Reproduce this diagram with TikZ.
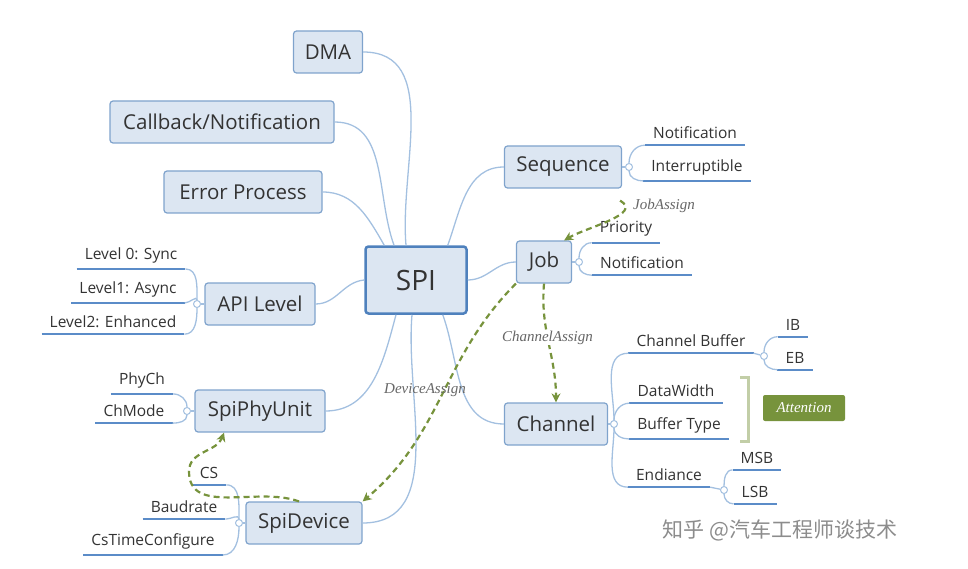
\documentclass[tikz,border=0pt]{standalone}
\usepackage{fontspec}
\setmainfont{Open Sans}
\newfontfamily\cjk{Noto Sans CJK SC}
\newfontfamily\lblfont{Liberation Serif}
\usetikzlibrary{arrows.meta}
\definecolor{boxfill}{HTML}{DCE6F2}
\definecolor{boxdraw}{HTML}{7FA3CC}
\definecolor{spidraw}{HTML}{4F81BD}
\definecolor{branch}{HTML}{A3C0E0}
\definecolor{leafline}{HTML}{5B8CC8}
\definecolor{assign}{HTML}{77933C}
\begin{document}
\begin{tikzpicture}[x=1pt,y=-1pt,
  box/.style={draw=boxdraw, fill=boxfill, line width=1.2pt, rounded corners=3pt,
    font=\fontsize{20.5}{22}\selectfont, text=black!80, minimum height=42pt, inner xsep=8pt},
  leaf/.style={font=\fontsize{15.5}{17}\selectfont, text=black!80, inner xsep=8pt, inner ysep=6pt},
  uline/.style={draw=leafline, line width=2pt},
  br/.style={draw=branch, line width=1.3pt},
  knob/.style={circle, draw=branch, fill=white, line width=1pt, inner sep=0pt, minimum size=7pt},
  jump/.style={draw=assign, line width=2.2pt, dash pattern=on 6pt off 4pt, -{Stealth[length=9pt,width=9pt]}},
  lbl/.style={font=\lblfont\itshape\fontsize{15}{17}\selectfont, text=black!60},
]
\useasboundingbox (0,0) rectangle (968,569);

% central node and main boxes
\node[box, draw=spidraw, line width=2.5pt, minimum width=101pt, minimum height=67pt,
  font=\fontsize{28}{30}\selectfont] (spi) at (416,280) {SPI};
\node[box, minimum width=69pt] (dma) at (328,52) {DMA};
\node[box, minimum width=224pt] (cb) at (222,122) {Callback/Notification};
\node[box, minimum width=158pt] (err) at (243,192) {Error Process};
\node[box, minimum width=110pt] (api) at (260,304) {API Level};
\node[box, minimum width=130pt] (phy) at (260,411) {SpiPhyUnit};
\node[box, minimum width=116pt] (dev) at (304,523) {SpiDevice};
\node[box, minimum width=117pt] (seq) at (563,167) {Sequence};
\node[box, minimum width=55pt] (job) at (544,262) {Job};
\node[box, minimum width=103pt] (ch) at (556,424) {Channel};

% branches from SPI
\draw[br] (spi.north) ++(-10,0) to[out=95,in=0] (dma.east);
\draw[br] (spi.north) ++(-22,0) to[out=110,in=0] (cb.east);
\draw[br] (spi.north west) ++(20,0) to[out=120,in=0] (err.east);
\draw[br] (spi.west) to[out=185,in=0] (api.east);
\draw[br] (spi.south) ++(-20,0) to[out=255,in=0] (phy.east);
\draw[br] (spi.south) ++(-4,0) to[out=265,in=0] (dev.east);
\draw[br] (spi.north east) ++(-20,0) to[out=70,in=180] (seq.west);
\draw[br] (spi.east) to[out=0,in=180] (job.west);
\draw[br] (spi.south east) ++(-25,0) to[out=290,in=180] (ch.west);

% sequence leaves
\node[knob] (kseq) at (629,167) {};
\node[leaf] (sq1) at (695,133) {Notification};
\node[leaf] (sq2) at (697,167) {Interruptible};
\draw[uline] (sq1.south west) -- (sq1.south east);
\draw[uline] (sq2.south west) -- (sq2.south east);
\draw[br] (seq.east) -- (kseq);
\draw[br] (kseq) to[out=90,in=180] (sq1.south west);
\draw[br] (kseq) to[out=-90,in=180] (sq2.south west);

% job leaves
\node[knob] (kjob) at (579,262) {};
\node[leaf] (jb1) at (626,229) {Priority};
\node[leaf] (jb2) at (642,263) {Notification};
\draw[uline] (jb1.south west) -- (jb1.south east);
\draw[uline] (jb2.south west) -- (jb2.south east);
\draw[br] (job.east) -- (kjob);
\draw[br] (kjob) to[out=90,in=180] (jb1.south west);
\draw[br] (kjob) to[out=-90,in=180] (jb2.south west);

% channel leaves
\node[knob] (kch) at (614,424) {};
\node[leaf] (c1) at (691,341) {Channel Buffer};
\node[leaf] (c2) at (676,391) {DataWidth};
\node[leaf] (c3) at (679,425) {Buffer Type};
\node[leaf] (c4) at (669,475) {Endiance};
\foreach \n in {c1,c2,c3,c4} \draw[uline] (\n.south west) -- (\n.south east);
\draw[br] (ch.east) -- (kch);
\foreach \n in {c1,c2} \draw[br] (kch) to[out=90,in=180] (\n.south west);
\draw[br] (kch) to[out=-90,in=180] (c3.south west);
\draw[br] (kch) to[out=-90,in=180] (c4.south west);

\node[knob] (kcb) at (764,356) {};
\node[leaf] (ib) at (793,325) {IB};
\node[leaf] (eb) at (795,358) {EB};
\draw[uline] (ib.south west) -- (ib.south east);
\draw[uline] (eb.south west) -- (eb.south east);
\draw[br] (c1.south east) -- (kcb);
\draw[br] (kcb) to[out=90,in=180] (ib.south west);
\draw[br] (kcb) to[out=-90,in=180] (eb.south west);

\node[knob] (ken) at (724,490) {};
\node[leaf] (msb) at (757,458) {MSB};
\node[leaf] (lsb) at (755,492) {LSB};
\draw[uline] (msb.south west) -- (msb.south east);
\draw[uline] (lsb.south west) -- (lsb.south east);
\draw[br] (c4.south east) -- (ken);
\draw[br] (ken) to[out=90,in=180] (msb.south west);
\draw[br] (ken) to[out=-90,in=180] (lsb.south west);

% attention bracket
\coordinate (bt) at (740,377);
\coordinate (bb) at (740,441);
\draw[draw=assign!45, line width=3pt] (bt) -- ++(8,0) -- ([xshift=8pt]bb) -- (bb);
\node[fill=assign, text=white, rounded corners=2pt, minimum width=82pt, minimum height=26pt,
  font=\lblfont\itshape\fontsize{15}{17}\selectfont] (att) at (804,408) {Attention};

% API leaves
\node[knob] (kapi) at (197,304) {};
\node[leaf] (a1) at (131,255) {Level 0: Sync};
\node[leaf] (a2) at (128,289) {Level1: Async};
\node[leaf] (a3) at (113,322) {Level2: Enhanced};
\foreach \n in {a1,a2,a3} \draw[uline] (\n.south west) -- (\n.south east);
\draw[br] (api.west) -- (kapi);
\draw[br] (kapi) to[out=90,in=0] (a1.south east);
\draw[br] (kapi) to[out=90,in=0] (a2.south east);
\draw[br] (kapi) to[out=-90,in=0] (a3.south east);

% SpiPhyUnit leaves
\node[knob] (kphy) at (187,411) {};
\node[leaf] (p1) at (142,380) {PhyCh};
\node[leaf] (p2) at (134,411) {ChMode};
\draw[uline] (p1.south west) -- (p1.south east);
\draw[uline] (p2.south west) -- (p2.south east);
\draw[br] (phy.west) -- (kphy);
\draw[br] (kphy) to[out=90,in=0] (p1.south east);
\draw[br] (kphy) to[out=-90,in=0] (p2.south east);

% SpiDevice leaves
\node[knob] (kdev) at (239,523) {};
\node[leaf] (d1) at (209,473) {CS};
\node[leaf] (d2) at (184,507) {Baudrate};
\node[leaf] (d3) at (153,541) {CsTimeConfigure};
\foreach \n in {d1,d2,d3} \draw[uline] (\n.south west) -- (\n.south east);
\draw[br] (dev.west) -- (kdev);
\draw[br] (kdev) to[out=90,in=0] (d1.south east);
\draw[br] (kdev) to[out=90,in=0] (d2.south east);
\draw[br] (kdev) to[out=-90,in=0] (d3.south east);

% assignments
\draw[jump] (seq.south east) ++(-2,12) to[out=-30,in=30] ([xshift=-8pt]job.north east);
\node[lbl] (joblbl) at (664,206) {JobAssign};
\draw[jump] (job.south) to[out=-95,in=90] node[pos=0.45, lbl, fill=white, inner sep=1pt] {ChannelAssign} (ch.north);
\draw[jump] (job.south west) to[out=-135,in=40] (dev.north east);
\node[lbl] (devlbl) at (425,390) {DeviceAssign};
\draw[jump] (dev.north) ++(-5,0) to[out=160,in=-90] ++(-110,-30) to[out=90,in=-110] ([xshift=-36pt]phy.south);

% watermark
\node[font=\cjk\fontsize{21}{23}\selectfont, text=black!45] (wm) at (780,530) {知乎 @汽车工程师谈技术};
\end{tikzpicture}
\end{document}
